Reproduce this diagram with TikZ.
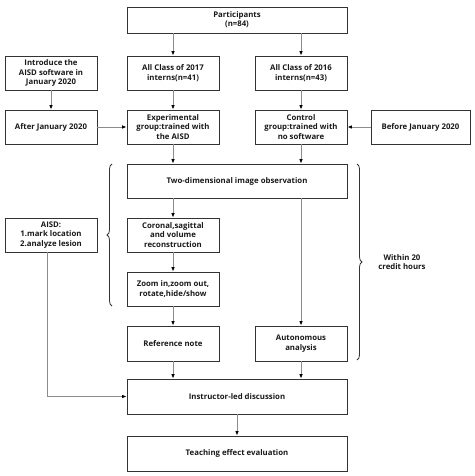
\documentclass[tikz,border=0pt]{standalone}
\usepackage{fontspec}
\setmainfont{Open Sans}
\usetikzlibrary{arrows.meta,decorations.pathreplacing}
\begin{document}
\begin{tikzpicture}[x=1pt,y=-1pt,
  box/.style={draw=black!80,line width=0.9pt,align=center,inner sep=1pt,
    font=\fontsize{7.8}{9.3}\selectfont\bfseries,text=black!90},
  conn/.style={draw=black!45,line width=0.8pt,-{Latex[length=4.5pt,width=3.6pt,color=black]}},
  brc/.style={draw=black!80,line width=0.8pt,decorate}]
\useasboundingbox (0,0) rectangle (474,476);
\node[box,minimum width=220,minimum height=26] (part) at (237,20) {Participants\\(n=84)};
\node[box,minimum width=92,minimum height=34] (c17) at (173,73) {All Class of 2017\\interns(n=41)};
\node[box,minimum width=92,minimum height=34] (c16) at (301,73) {All Class of 2016\\interns(n=43)};
\node[box,minimum width=92,minimum height=34] (intro) at (51,73) {Introduce the\\AISD software in\\January 2020};
\node[box,minimum width=92,minimum height=34] (after) at (51,127) {After January 2020};
\node[box,minimum width=92,minimum height=34] (exp) at (173,127) {Experimental\\group:trained with\\the AISD};
\node[box,minimum width=92,minimum height=34] (ctrl) at (301,127) {Control\\group:trained with\\no software};
\node[box,minimum width=99,minimum height=34] (before) at (420.5,127) {Before January 2020};
\node[box,minimum width=220,minimum height=34] (twod) at (237,181) {Two-dimensional image observation};
\node[box,minimum width=92,minimum height=34] (cor) at (173,235) {Coronal,sagittal\\and volume\\reconstruction};
\node[box,minimum width=92,minimum height=34] (zoom) at (173,289) {Zoom in,zoom out,\\rotate,hide/show};
\node[box,minimum width=92,minimum height=34] (aisd) at (51,235) {AISD:\\1.mark location\\2.analyze lesion};
\node[box,minimum width=92,minimum height=35] (ref) at (173,343.5) {Reference note};
\node[box,minimum width=92,minimum height=35] (auto) at (301,343.5) {Autonomous\\analysis};
\node[box,minimum width=220,minimum height=35] (instr) at (237,396.5) {Instructor-led discussion};
\node[box,minimum width=220,minimum height=35] (teach) at (237,453.5) {Teaching effect evaluation};
\node[font=\fontsize{7.8}{9.3}\selectfont\bfseries,text=black!90,align=center] (within) at (402,262) {Within 20\\credit hours};
\coordinate (kx) at (47,0);
\coordinate (lb1) at (112,306);
\coordinate (lb2) at (112,164);
\coordinate (rb1) at (357,164);
\coordinate (rb2) at (357,360);
\draw[conn] (part.south -| c17) -- (c17.north);
\draw[conn] (part.south -| c16) -- (c16.north);
\draw[conn] (c17) -- (exp);
\draw[conn] (c16) -- (ctrl);
\draw[conn] (intro) -- (after);
\draw[conn] (after) -- (exp);
\draw[conn] (before) -- (ctrl);
\draw[conn] (exp.south) -- (twod.north -| exp);
\draw[conn] (ctrl.south) -- (twod.north -| ctrl);
\draw[conn] (twod.south -| cor) -- (cor.north);
\draw[conn] (cor) -- (zoom);
\draw[conn] (zoom) -- (ref);
\draw[conn] (twod.south -| auto) -- (auto.north);
\draw[conn] (ref.south) -- (instr.north -| ref);
\draw[conn] (auto.south) -- (instr.north -| auto);
\draw[conn] (instr) -- (teach);
\draw[conn] (aisd.south -| kx) |- (instr.west);
\draw[brc,decoration={brace,amplitude=5pt}] (lb1) -- (lb2);
\draw[brc,decoration={brace,amplitude=5pt}] (rb1) -- (rb2);
\end{tikzpicture}
\end{document}
